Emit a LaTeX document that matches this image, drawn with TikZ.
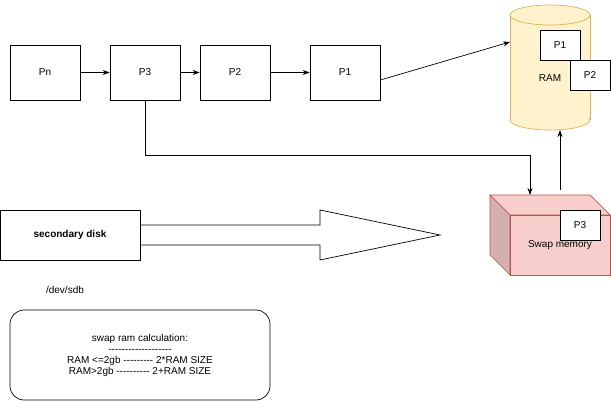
\documentclass[tikz,border=0pt]{standalone}
\usepackage{fontspec}
\setmainfont{Liberation Sans}[Ligatures=TeXOff]
\usetikzlibrary{arrows.meta}
\definecolor{ramfill}{HTML}{FFF2CC}
\definecolor{ramdraw}{HTML}{D6B656}
\definecolor{swfill}{HTML}{F8CECC}
\definecolor{swdraw}{HTML}{B85450}
\begin{document}
\begin{tikzpicture}[x=1pt,y=-1pt,font=\fontsize{10}{12}\selectfont,line width=0.7pt,
  proc/.style={draw,minimum width=70pt,minimum height=55pt,inner sep=0pt},
  small/.style={draw,fill=white,minimum width=40pt,minimum height=30pt,inner sep=0pt},
  conn/.style={-{Stealth[length=7pt,width=5pt]},line width=0.7pt}]
\useasboundingbox (0,0) rectangle (611,401);
\node[proc] (pn) at (45,72.5) {Pn};
\node[proc] (p3) at (145,72.5) {P3};
\node[proc] (p2) at (235,72.5) {P2};
\node[proc] (p1) at (345,72.5) {P1};
% RAM cylinder
\fill[ramfill] (510,15) rectangle (590,120);
\draw[ramdraw,fill=ramfill] (550,120) ellipse[x radius=40,y radius=10];
\fill[ramfill] (511,15) rectangle (589,120);
\draw[ramdraw] (510,15) -- (510,120) (590,15) -- (590,120);
\draw[ramdraw,fill=ramfill] (550,15) ellipse[x radius=40,y radius=10];
\coordinate (ramleft) at (510,42);
\coordinate (rambot) at (560,130);
\node (ramtxt) at (550,78) {RAM};
\node[small] (rp1) at (560,45) {P1};
\node[small] (rp2) at (590,75) {P2};
% swap cube
\draw[swdraw,fill=swfill] (490,195) -- (590,195) -- (610,215) -- (510,215) -- cycle;
\draw[swdraw,fill=swfill!85!black] (490,195) -- (510,215) -- (510,275) -- (490,255) -- cycle;
\draw[swdraw,fill=swfill] (510,215) rectangle (610,275);
\coordinate (swtop) at (530,195);
\coordinate (swup) at (560,190);
\node (swtxt) at (560,245) {Swap memory};
\node[small] (sp3) at (580,225) {P3};
% connectors
\draw[conn] (pn) -- (p3);
\draw[conn] (p3) -- (p2);
\draw[conn] (p2) -- (p1);
\draw[conn] (p1.east |- 0,80) -- (ramleft);
\draw[conn] (p3.south) |- (530,155) -- (swtop);
\draw[conn] (swup) -- (rambot);
% disk
\node[draw,minimum width=140pt,minimum height=50pt,inner sep=0pt,font=\fontsize{10}{12}\selectfont\bfseries] (disk) at (70,235) {secondary disk};
\draw (disk.east |- 0,225) -- (320,225) -- (320,210) -- (440,235) -- (320,260) -- (320,245) -- (disk.east |- 0,245);
\node (sdb) at (65,290) {/dev/sdb};
\node[draw,rounded corners=14pt,minimum width=260pt,minimum height=90pt,align=center,inner sep=0pt] (calc) at (140,355) {swap ram calculation:\\[-1pt]-------------------\\[-1pt]RAM <=2gb --------- 2*RAM SIZE\\[-1pt]RAM>2gb ---------- 2+RAM SIZE};
\end{tikzpicture}
\end{document}
